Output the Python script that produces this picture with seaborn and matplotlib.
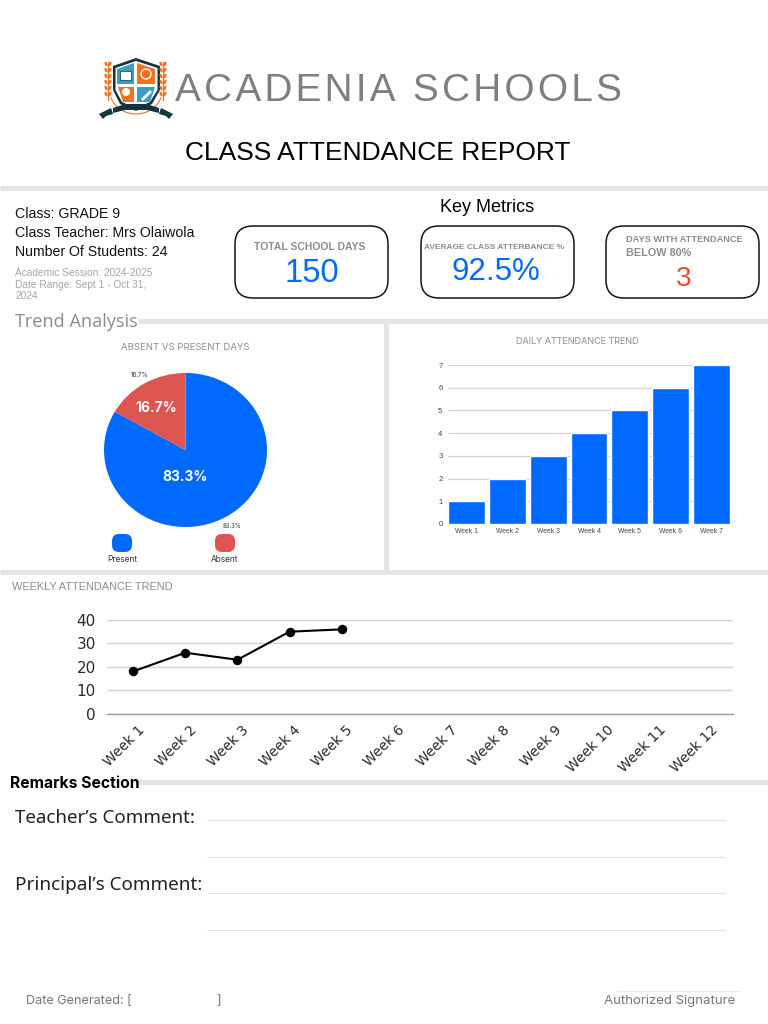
import matplotlib
matplotlib.use("Agg")
import matplotlib.pyplot as plt
from matplotlib.patches import FancyBboxPatch, Polygon, Ellipse, Rectangle, Circle, Arc
from matplotlib.transforms import ScaledTranslation
import seaborn as sns
import pandas as pd

# Report values
pie_labels = ["Present", "Absent"]
pie_values = [83.3, 16.7]
daily_weeks = ["Week 1", "Week 2", "Week 3", "Week 4", "Week 5", "Week 6", "Week 7"]
daily_values = [1, 2, 3, 4, 5, 6, 7]
weekly_weeks = [f"Week {i}" for i in range(1, 13)]
weekly_values = [18, 26, 23, 35, 36]
metric_titles = ["TOTAL SCHOOL DAYS", "AVERAGE CLASS ATTERBANCE %"]
metric_values = ["150", "92.5%", "3"]

BLUE = "#0069FF"
RED = "#DD5550"
RULE = "#E3E4E4"
GREY = "#8C8C8C"
W, H = 768, 1024

sns.set_theme(style="white")
plt.rcParams["font.family"] = ["Liberation Sans", "DejaVu Sans"]
fig = plt.figure(figsize=(W / 100, H / 100), dpi=100, facecolor="white")


def axes_px(left, top, right, bottom):
    """Axes placed by page pixel edges."""
    return fig.add_axes([left / W, 1 - bottom / H, (right - left) / W, (bottom - top) / H])


def pixel_layer(zorder):
    """Transparent full-page axes in pixel units."""
    layer = fig.add_axes([0, 0, 1, 1], zorder=zorder)
    layer.set_xlim(0, W)
    layer.set_ylim(H, 0)
    layer.axis("off")
    return layer


page = pixel_layer(0)
overlay = pixel_layer(10)


def rule(x0, y0, x1, y1, lw=4, color=RULE):
    page.plot([x0, x1], [y0, y1], color=color, lw=lw * 0.72, solid_capstyle="butt")


rule(0, 188, 768, 188, 5)
rule(138, 321, 768, 321, 5)
rule(386, 321, 386, 571, 5)
rule(0, 572, 768, 572, 5)
rule(138, 782, 768, 782, 5)
for y in [820, 857, 893, 930]:
    rule(207, y, 725, y, 1.2, "#E2E2E2")
rule(617, 991, 740, 991, 0.8, "#E6E6E6")

# Crest
navy = "#16343F"
orange = "#EE7424"
teal = "#3D9CC0"
page.add_patch(Arc((136, 88), 54, 52, theta1=20, theta2=160, color=orange, lw=0.8))
page.add_patch(Polygon([(113, 66), (136, 58), (160, 66), (160, 90), (152, 104), (136, 111),
                        (120, 104), (113, 90)], closed=True, fc=navy, ec="none"))
page.add_patch(Polygon([(115.5, 68), (136, 61), (157.5, 68), (157.5, 90), (150, 102), (136, 108),
                        (122, 102), (115.5, 90)], closed=True, fc="white", ec="none"))
page.add_patch(Polygon([(117, 69), (134, 63), (134, 84), (117, 84)], closed=True, fc=teal, ec="none"))
page.add_patch(Polygon([(137, 63), (155, 69), (155, 84), (137, 84)], closed=True, fc=orange, ec="none"))
page.add_patch(Polygon([(118, 87), (134, 87), (134, 102), (123, 102)], closed=True, fc=orange, ec="none"))
page.add_patch(Polygon([(137, 87), (155, 87), (150, 102), (137, 102)], closed=True, fc=teal, ec="none"))
page.add_patch(Rectangle((120, 71), 11, 9, fc="white", ec=navy, lw=0.5))
page.add_patch(Circle((146, 74), 5, fc=orange, ec="white", lw=0.9))
page.add_patch(Circle((126, 92), 4, fc="white", ec="none"))
page.add_patch(Polygon([(141, 99), (150, 90), (152, 92), (143, 101)], closed=True, fc="white", ec="none"))
for cx in (108, 163):
    page.plot([cx, cx], [62, 100], color=orange, lw=1.0)
    for y in range(64, 98, 6):
        page.add_patch(Ellipse((cx - 2, y), 2.6, 5, angle=-25, fc=orange, ec="none"))
        page.add_patch(Ellipse((cx + 2, y), 2.6, 5, angle=25, fc=orange, ec="none"))
page.add_patch(Polygon([(113, 108), (125, 104), (147, 104), (159, 108), (159, 113), (147, 110),
                        (125, 110), (113, 113)], closed=True, fc=navy, ec="none"))
page.add_patch(Polygon([(99, 114), (111, 108), (113, 114), (106, 116), (103, 119)], closed=True, fc=navy, ec="none"))
page.add_patch(Polygon([(173, 114), (161, 108), (159, 114), (166, 116), (169, 119)], closed=True, fc=navy, ec="none"))

# Header
page.text(175, 91, "\u200a".join("ACADENIA SCHOOLS"), fontsize=27.9, color="#7F7F7F", va="center", ha="left")
page.text(377.5, 153, "CLASS ATTENDANCE REPORT", fontsize=19, color="black", va="center", ha="center")

# Class details
for y, s in [(214, "Class: GRADE 9"), (233, "Class Teacher: Mrs Olaiwola"), (252, "Number Of Students: 24")]:
    page.text(15, y, s, fontsize=10.2, color="#111111", va="center")
for y, s in [(273, "Academic Session: 2024-2025"), (285, "Date Range: Sept 1 - Oct 31,"), (296, "2024")]:
    page.text(15, y, s, fontsize=7.25, color="#A6A6A6", va="center")
page.text(15, 322, "Trend Analysis", fontsize=13.1, color=GREY, va="center", family=["Open Sans"])
page.text(440, 207, "Key Metrics", fontsize=13, color="black", va="center")

# Metric cards
for x0, x1 in [(235, 388), (421, 574), (606, 759)]:
    page.add_patch(FancyBboxPatch((x0 + 18, 226 + 18), x1 - x0 - 36, 72 - 36,
                                  boxstyle="round,pad=18,rounding_size=18",
                                  fc="white", ec="#141414", lw=1.1))
page.text(310, 247.5, metric_titles[0], fontsize=7.45, color=GREY, weight="bold", ha="center", va="center")
page.text(312, 274, metric_values[0], fontsize=23.5, color=BLUE, ha="center", va="center")
page.text(494.5, 247.5, metric_titles[1], fontsize=6.0, color=GREY, weight="bold", ha="center", va="center")
page.text(496, 272, metric_values[1], fontsize=22.5, color=BLUE, ha="center", va="center")
page.text(626, 240, "DAYS WITH ATTENDANCE", fontsize=6.65, color=GREY, weight="bold", va="center")
page.text(626, 253, "BELOW 80%", fontsize=7.85, color=GREY, weight="bold", va="center")
page.text(684, 279, metric_values[2], fontsize=20, color="#EE4B2B", ha="center", va="center")

# Pie chart
pie_ax = axes_px(104, 373, 267, 527)
pie_ax.pie(pie_values, colors=[BLUE, RED], startangle=90, counterclock=False, radius=1.0,
           center=(0, 0), wedgeprops={"linewidth": 0})
pie_ax.set_xlim(-1, 1)
pie_ax.set_ylim(-1, 1)
pie_ax.set_aspect("auto")
page.text(185, 347, "ABSENT VS PRESENT DAYS", fontsize=6.9, color=GREY, ha="center", va="center",
          family=["Inter"])
overlay.text(156.5, 408, f"{pie_values[1]}%", fontsize=10, color="white", weight="bold", ha="center", va="center",
             family=["Inter"])
overlay.text(185, 477, f"{pie_values[0]}%", fontsize=10, color="white", weight="bold", ha="center", va="center",
             family=["Inter"])
overlay.text(139, 375, f"{pie_values[1]}%", fontsize=4.4, color="#333333", ha="center", va="center", family=["Inter"])
overlay.text(232, 526, f"{pie_values[0]}%", fontsize=4.4, color="#333333", ha="center", va="center", family=["Inter"])
for cx, lab, col in [(122, pie_labels[0], BLUE), (225, pie_labels[1], RED)]:
    page.add_patch(FancyBboxPatch((cx - 5, 539), 10, 8, boxstyle="round,pad=5,rounding_size=7", fc=col, ec="none"))
    page.text(cx, 560, lab, fontsize=6, color="#333333", ha="center", va="center", family=["Inter"])

# Daily attendance bars
bar_ax = axes_px(448, 365, 730, 524)
sns.barplot(data=pd.DataFrame({"week": daily_weeks, "days": daily_values}), x="week", y="days",
            color=BLUE, saturation=1, width=0.9, ax=bar_ax, zorder=3)
bar_ax.set_ylim(0, 7)
bar_ax.set_xlim(-0.45, 6.45)
bar_ax.set_yticks(range(0, 8))
bar_ax.set_xlabel("")
bar_ax.set_ylabel("")
bar_ax.grid(axis="y", color="#D5D5D5", lw=0.9, zorder=0)
bar_ax.grid(axis="x", visible=False)
bar_ax.set_axisbelow(True)
sns.despine(ax=bar_ax, left=True, bottom=True, top=True, right=True)
bar_ax.tick_params(axis="x", length=0, labelsize=4.9, labelcolor="#444444", pad=3)
bar_ax.tick_params(axis="y", length=0, labelsize=5.5, labelcolor="#444444", pad=4)
bar_ax.patch.set_alpha(0)
page.text(577.5, 342, "DAILY ATTENDANCE TREND", fontsize=6.5, color=GREY, ha="center", va="center", family=["Inter"])

# Weekly attendance line
line_ax = axes_px(107, 620, 733, 713.5)
line_ax.patch.set_alpha(0)
frame = pd.DataFrame({"pos": range(len(weekly_values)), "attendance": weekly_values})
sns.lineplot(data=frame, x="pos", y="attendance", color="black", lw=1.5, marker="o", markersize=6.8,
             markeredgewidth=0, ax=line_ax, zorder=3, clip_on=False)
line_ax.set_xlim(-0.5, 11.5)
line_ax.set_ylim(0, 40)
line_ax.set_yticks([0, 10, 20, 30, 40])
line_ax.set_xticks(range(len(weekly_weeks)))
line_ax.set_xticklabels(weekly_weeks, rotation=45, ha="right", rotation_mode="anchor")
line_ax.set_xlabel("")
line_ax.set_ylabel("")
line_ax.grid(axis="y", color="#D2D2D2", lw=1.0)
line_ax.grid(axis="x", visible=False)
sns.despine(ax=line_ax, left=True, top=True, right=True)
line_ax.spines["bottom"].set_color("#9A9A9A")
line_ax.spines["bottom"].set_linewidth(1.0)
line_ax.tick_params(axis="x", length=0, labelsize=10, labelcolor="#2A2A2A", pad=6.5)
line_ax.tick_params(axis="y", length=0, labelsize=11, labelcolor="#2A2A2A", pad=8)
shift = ScaledTranslation(4 / 100, 0, fig.dpi_scale_trans)
for lab in line_ax.get_xticklabels():
    lab.set_family(["DejaVu Sans"])
    lab.set_transform(lab.get_transform() + shift)
for lab in line_ax.get_yticklabels():
    lab.set_family(["DejaVu Sans"])
page.text(12, 587, "WEEKLY ATTENDANCE TREND", fontsize=7.9, color=GREY, va="center")

# Remarks and footer
page.text(10, 783.5, "Remarks Section", fontsize=11.3, color="black", weight="bold", va="center", family=["Inter"])
page.text(15, 818, "Teacher\u2019s Comment:", fontsize=13.5, color="#222222", va="center", family=["Noto Sans"])
page.text(15, 885, "Principal\u2019s Comment:", fontsize=13.6, color="#222222", va="center", family=["Noto Sans"])
page.text(26, 1001, "Date Generated: [", fontsize=9.1, color="#777777", va="center", family=["Inter"])
page.text(216, 1001, "]", fontsize=9.1, color="#777777", va="center", family=["Inter"])
page.text(735, 1001, "Authorized Signature", fontsize=9.5, color="#777777", ha="right", va="center", family=["Inter"])

fig.savefig("out.png", dpi=100, facecolor="white")
